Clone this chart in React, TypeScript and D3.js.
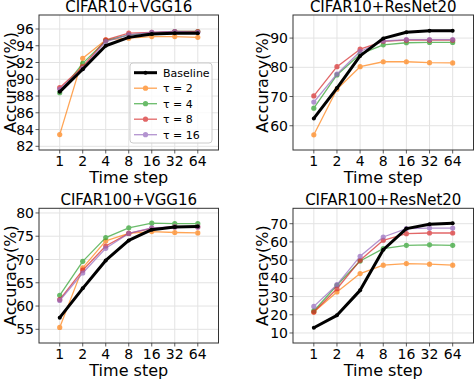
import React from "react";
import * as d3 from "d3";

const timeSteps = ["1", "2", "4", "8", "16", "32", "64"];
const seriesNames = ["Baseline", "τ = 2", "τ = 4", "τ = 8", "τ = 16"];
const seriesColors = ["#000000", "#ff7f0e", "#2ca02c", "#d62728", "#9467bd"];

// CIFAR10 + VGG16
const c10VggBase = [88.5, 91.2, 94.0, 95.0, 95.4, 95.5, 95.5];
const c10VggT2 = [83.4, 92.5, 94.7, 94.9, 95.1, 95.1, 95.0];
const c10VggT4 = [88.4, 91.9, 94.6, 95.3, 95.5, 95.7, 95.7];
const c10VggT8 = [89.0, 91.5, 94.7, 95.5, 95.6, 95.7, 95.7];
const c10VggT16 = [88.8, 91.3, 94.5, 95.3, 95.6, 95.7, 95.6];

// CIFAR10 + ResNet20
const c10ResBase = [62.5, 72.9, 83.9, 89.9, 92.0, 92.5, 92.5];
const c10ResT2 = [56.9, 72.5, 80.2, 81.9, 81.9, 81.6, 81.5];
const c10ResT4 = [66.0, 77.4, 84.5, 87.7, 88.4, 88.5, 88.5];
const c10ResT8 = [70.2, 80.2, 86.2, 88.9, 89.3, 89.3, 89.3];
const c10ResT16 = [68.1, 77.7, 85.4, 89.0, 89.5, 89.5, 89.5];

// CIFAR100 + VGG16
const c100VggBase = [57.5, 63.8, 69.8, 74.1, 76.4, 77.0, 77.1];
const c100VggT2 = [55.4, 68.2, 74.0, 75.6, 76.0, 75.8, 75.7];
const c100VggT4 = [62.3, 69.6, 74.7, 76.8, 77.8, 77.7, 77.7];
const c100VggT8 = [61.4, 67.7, 72.9, 75.6, 76.7, 77.0, 77.0];
const c100VggT16 = [61.2, 67.1, 72.4, 75.6, 76.8, 77.0, 77.0];

// CIFAR100 + ResNet20
const c100ResBase = [12.9, 19.7, 33.4, 55.7, 67.3, 69.7, 70.2];
const c100ResT2 = [21.5, 32.5, 42.6, 47.2, 48.1, 47.8, 47.2];
const c100ResT4 = [22.1, 36.2, 49.5, 56.3, 58.1, 58.4, 58.1];
const c100ResT8 = [21.5, 34.3, 49.9, 60.9, 64.5, 64.9, 64.9];
const c100ResT16 = [24.6, 36.5, 52.1, 62.7, 67.3, 67.6, 67.6];

const titles = ["CIFAR10+VGG16", "CIFAR10+ResNet20", "CIFAR100+VGG16", "CIFAR100+ResNet20"];
const yTicks1 = [82, 84, 86, 88, 90, 92, 94, 96];
const yTicks2 = [60, 70, 80, 90];
const yTicks3 = [55, 60, 65, 70, 75, 80];
const yTicks4 = [10, 20, 30, 40, 50, 60, 70];

const FONT = "DejaVu Sans, sans-serif";

type PanelProps = {
  title: string;
  series: number[][];
  yDomain: [number, number];
  yTicks: number[];
  x0: number;
  x1: number;
  y0: number;
  y1: number;
  yLabelX: number;
  legend?: boolean;
};

function Panel({ title, series, yDomain, yTicks, x0, x1, y0, y1, yLabelX, legend }: PanelProps) {
  const x = d3.scaleLinear().domain([-0.9, 6.9]).range([x0, x1]);
  const y = d3.scaleLinear().domain(yDomain).range([y1, y0]);
  const line = d3
    .line<number>()
    .x((_, i) => x(i))
    .y((d) => y(d));
  const order = [1, 2, 3, 4, 0];
  return (
    <g>
      {/* grid */}
      {timeSteps.map((_, i) => (
        <line key={"gx" + i} x1={x(i)} x2={x(i)} y1={y0} y2={y1} stroke="#e3e3e3" strokeWidth={1} />
      ))}
      {yTicks.map((t) => (
        <line key={"gy" + t} x1={x0} x2={x1} y1={y(t)} y2={y(t)} stroke="#e3e3e3" strokeWidth={1} />
      ))}
      {/* series */}
      {order.map((si) => {
        const vals = series[si];
        const isBase = si === 0;
        return (
          <g key={"s" + si} opacity={isBase ? 1 : 0.7}>
            <path d={line(vals) || ""} fill="none" stroke={seriesColors[si]} strokeWidth={isBase ? 3 : 1.3} strokeLinejoin="round" />
            {vals.map((v, i) => (
              <circle key={i} cx={x(i)} cy={y(v)} r={isBase ? 2 : 2.6} fill={seriesColors[si]} />
            ))}
          </g>
        );
      })}
      {/* frame */}
      <rect x={x0} y={y0} width={x1 - x0} height={y1 - y0} fill="none" stroke="#333" strokeWidth={1} />
      {/* x ticks */}
      {timeSteps.map((t, i) => (
        <g key={"xt" + i}>
          <line x1={x(i)} x2={x(i)} y1={y1} y2={y1 + 3.5} stroke="#333" strokeWidth={0.8} />
          <text x={x(i)} y={y1 + 15.5} textAnchor="middle" fontSize={14} fontFamily={FONT} fill="#000">
            {t}
          </text>
        </g>
      ))}
      {yTicks.map((t) => (
        <g key={"yt" + t}>
          <line x1={x0 - 3.5} x2={x0} y1={y(t)} y2={y(t)} stroke="#333" strokeWidth={0.8} />
          <text x={x0 - 5} y={y(t)} dy="0.36em" textAnchor="end" fontSize={14} fontFamily={FONT} fill="#000">
            {t}
          </text>
        </g>
      ))}
      {/* labels */}
      <text x={(x0 + x1) / 2} y={y1 + 32.5} textAnchor="middle" fontSize={16} fontFamily={FONT} fill="#000">
        Time step
      </text>
      <text
        transform={`translate(${yLabelX},${(y0 + y1) / 2}) rotate(-90)`}
        textAnchor="middle"
        fontSize={16}
        fontFamily={FONT}
        fill="#000"
      >
        Accuracy(%)
      </text>
      <text x={(x0 + x1) / 2} y={y0 - 3} textAnchor="middle" fontSize={15} fontFamily={FONT} fill="#000">
        {title}
      </text>
      {legend && (
        <g>
          <rect x={130} y={63} width={82} height={80} rx={3} fill="#fff" fillOpacity={0.8} stroke="#ccc" strokeWidth={1} />
          {seriesNames.map((n, i) => {
            const ly = 72.7 + i * 15.5;
            const isBase = i === 0;
            return (
              <g key={n}>
                <g opacity={isBase ? 1 : 0.7}>
                  <line x1={134} x2={157} y1={ly} y2={ly} stroke={seriesColors[i]} strokeWidth={isBase ? 3 : 1.3} />
                  <circle cx={145.5} cy={ly} r={isBase ? 2 : 2.6} fill={seriesColors[i]} />
                </g>
                <text x={163} y={ly} dy="0.36em" fontSize={11} fontFamily={FONT} fill="#000">
                  {n}
                </text>
              </g>
            );
          })}
        </g>
      )}
    </g>
  );
}

export default function App() {
  return (
    <svg width={474} height={379} style={{ position: "absolute", left: 0, top: 0, background: "#fff" }}>
      <rect width={474} height={379} fill="#fff" />
      <Panel
        title={titles[0]}
        series={[c10VggBase, c10VggT2, c10VggT4, c10VggT8, c10VggT16]}
        yDomain={[81.56, 97.67]}
        yTicks={yTicks1}
        x0={39}
        x1={218.5}
        y0={15}
        y1={150}
        yLabelX={16}
        legend
      />
      <Panel
        title={titles[1]}
        series={[c10ResBase, c10ResT2, c10ResT4, c10ResT8, c10ResT16]}
        yDomain={[51.7, 97.9]}
        yTicks={yTicks2}
        x0={293}
        x1={473.5}
        y0={15}
        y1={150}
        yLabelX={268}
      />
      <Panel
        title={titles[2]}
        series={[c100VggBase, c100VggT2, c100VggT4, c100VggT8, c100VggT16]}
        yDomain={[52.06, 81.0]}
        yTicks={yTicks3}
        x0={39}
        x1={218.5}
        y0={208.3}
        y1={343}
        yLabelX={16}
      />
      <Panel
        title={titles[3]}
        series={[c100ResBase, c100ResT2, c100ResT4, c100ResT8, c100ResT16]}
        yDomain={[4.5, 78.45]}
        yTicks={yTicks4}
        x0={293}
        x1={473.5}
        y0={208.3}
        y1={343}
        yLabelX={268}
      />
    </svg>
  );
}
